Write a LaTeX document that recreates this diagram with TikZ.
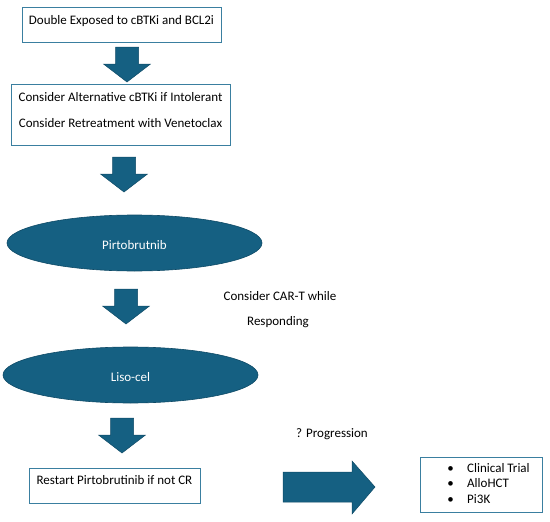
\documentclass[tikz,border=0pt]{standalone}
\usepackage{fontspec}
\setmainfont{Carlito}
\usetikzlibrary{shapes.geometric,positioning,calc}
\definecolor{tealfill}{HTML}{156082}
\definecolor{tealedge}{HTML}{0E4A66}
\definecolor{boxedge}{HTML}{3A7FA0}

\begin{document}
\begin{tikzpicture}[x=1pt,y=-1pt,
    font=\fontsize{13}{15.5}\selectfont,
    stepbox/.style={draw=boxedge, line width=0.9pt, fill=white, align=center,
        inner ysep=0pt, text height=17.5pt, text depth=17.5pt},
    drug/.style={ellipse, draw=tealedge, fill=tealfill, text=white, line width=0.6pt,
        inner sep=0pt, minimum width=255, minimum height=56, text height=13pt, text depth=0pt},
    fat/.style={fill=tealfill, draw=tealedge, line width=0.5pt}]
    \useasboundingbox (0,0) rectangle (550,522);

    % Boxes
    \node[stepbox, minimum width=199] (dbl) at (121.5,24.5) {Double Exposed to cBTKi and BCL2i};
    \node[stepbox, minimum width=219, text height=43.5pt] (alt) at (120.5,114.5)
        {Consider Alternative cBTKi if Intolerant\\[10.5pt]Consider Retreatment with Venetoclax};
    \node[stepbox, minimum width=171, text height=16.5pt, text depth=18.5pt] (restart) at (114.5,485.5) {Restart Pirtobrutinib if not CR};

    % Drugs
    \node[drug] (pirto) at (134.5,243) {Pirtobrutnib};
    \node[drug] (liso) at (130.5,375) {Liso-cel};

    % Side notes
    \node (cart) at (280,296) {Consider CAR-T while};
    \node (resp) at (278,322) {Responding};
    \node (prog) at (332,434) {? Progression};

    % Options after progression
    \node[stepbox, minimum width=122, text height=27.5pt, text depth=27.5pt] (opts) at (481,484.5) {};
    \node[anchor=west, inner sep=0pt] (optlist) at ($(opts.west)+(27.5,0)$)
        {\begin{tabular}{@{}l@{\hspace{13.5pt}}l@{}}
            \textbullet & Clinical Trial\\
            \textbullet & AlloHCT\\
            \textbullet & Pi3K
        \end{tabular}};

    % Block arrows down
    \foreach \tx/\ty in {127/82, 124/192, 126/324, 122/453}
        \filldraw[fat] (\tx-11.5,\ty-35) -- (\tx+11.5,\ty-35) -- (\tx+11.5,\ty-18)
            -- (\tx+23.5,\ty-18) -- (\tx,\ty) -- (\tx-23.5,\ty-18)
            -- (\tx-11.5,\ty-18) -- cycle;

    % Block arrow right
    \filldraw[fat] (283,472) -- (352,472) -- (352,461) -- (375,487)
        -- (352,514) -- (352,502) -- (283,502) -- cycle;
\end{tikzpicture}
\end{document}
